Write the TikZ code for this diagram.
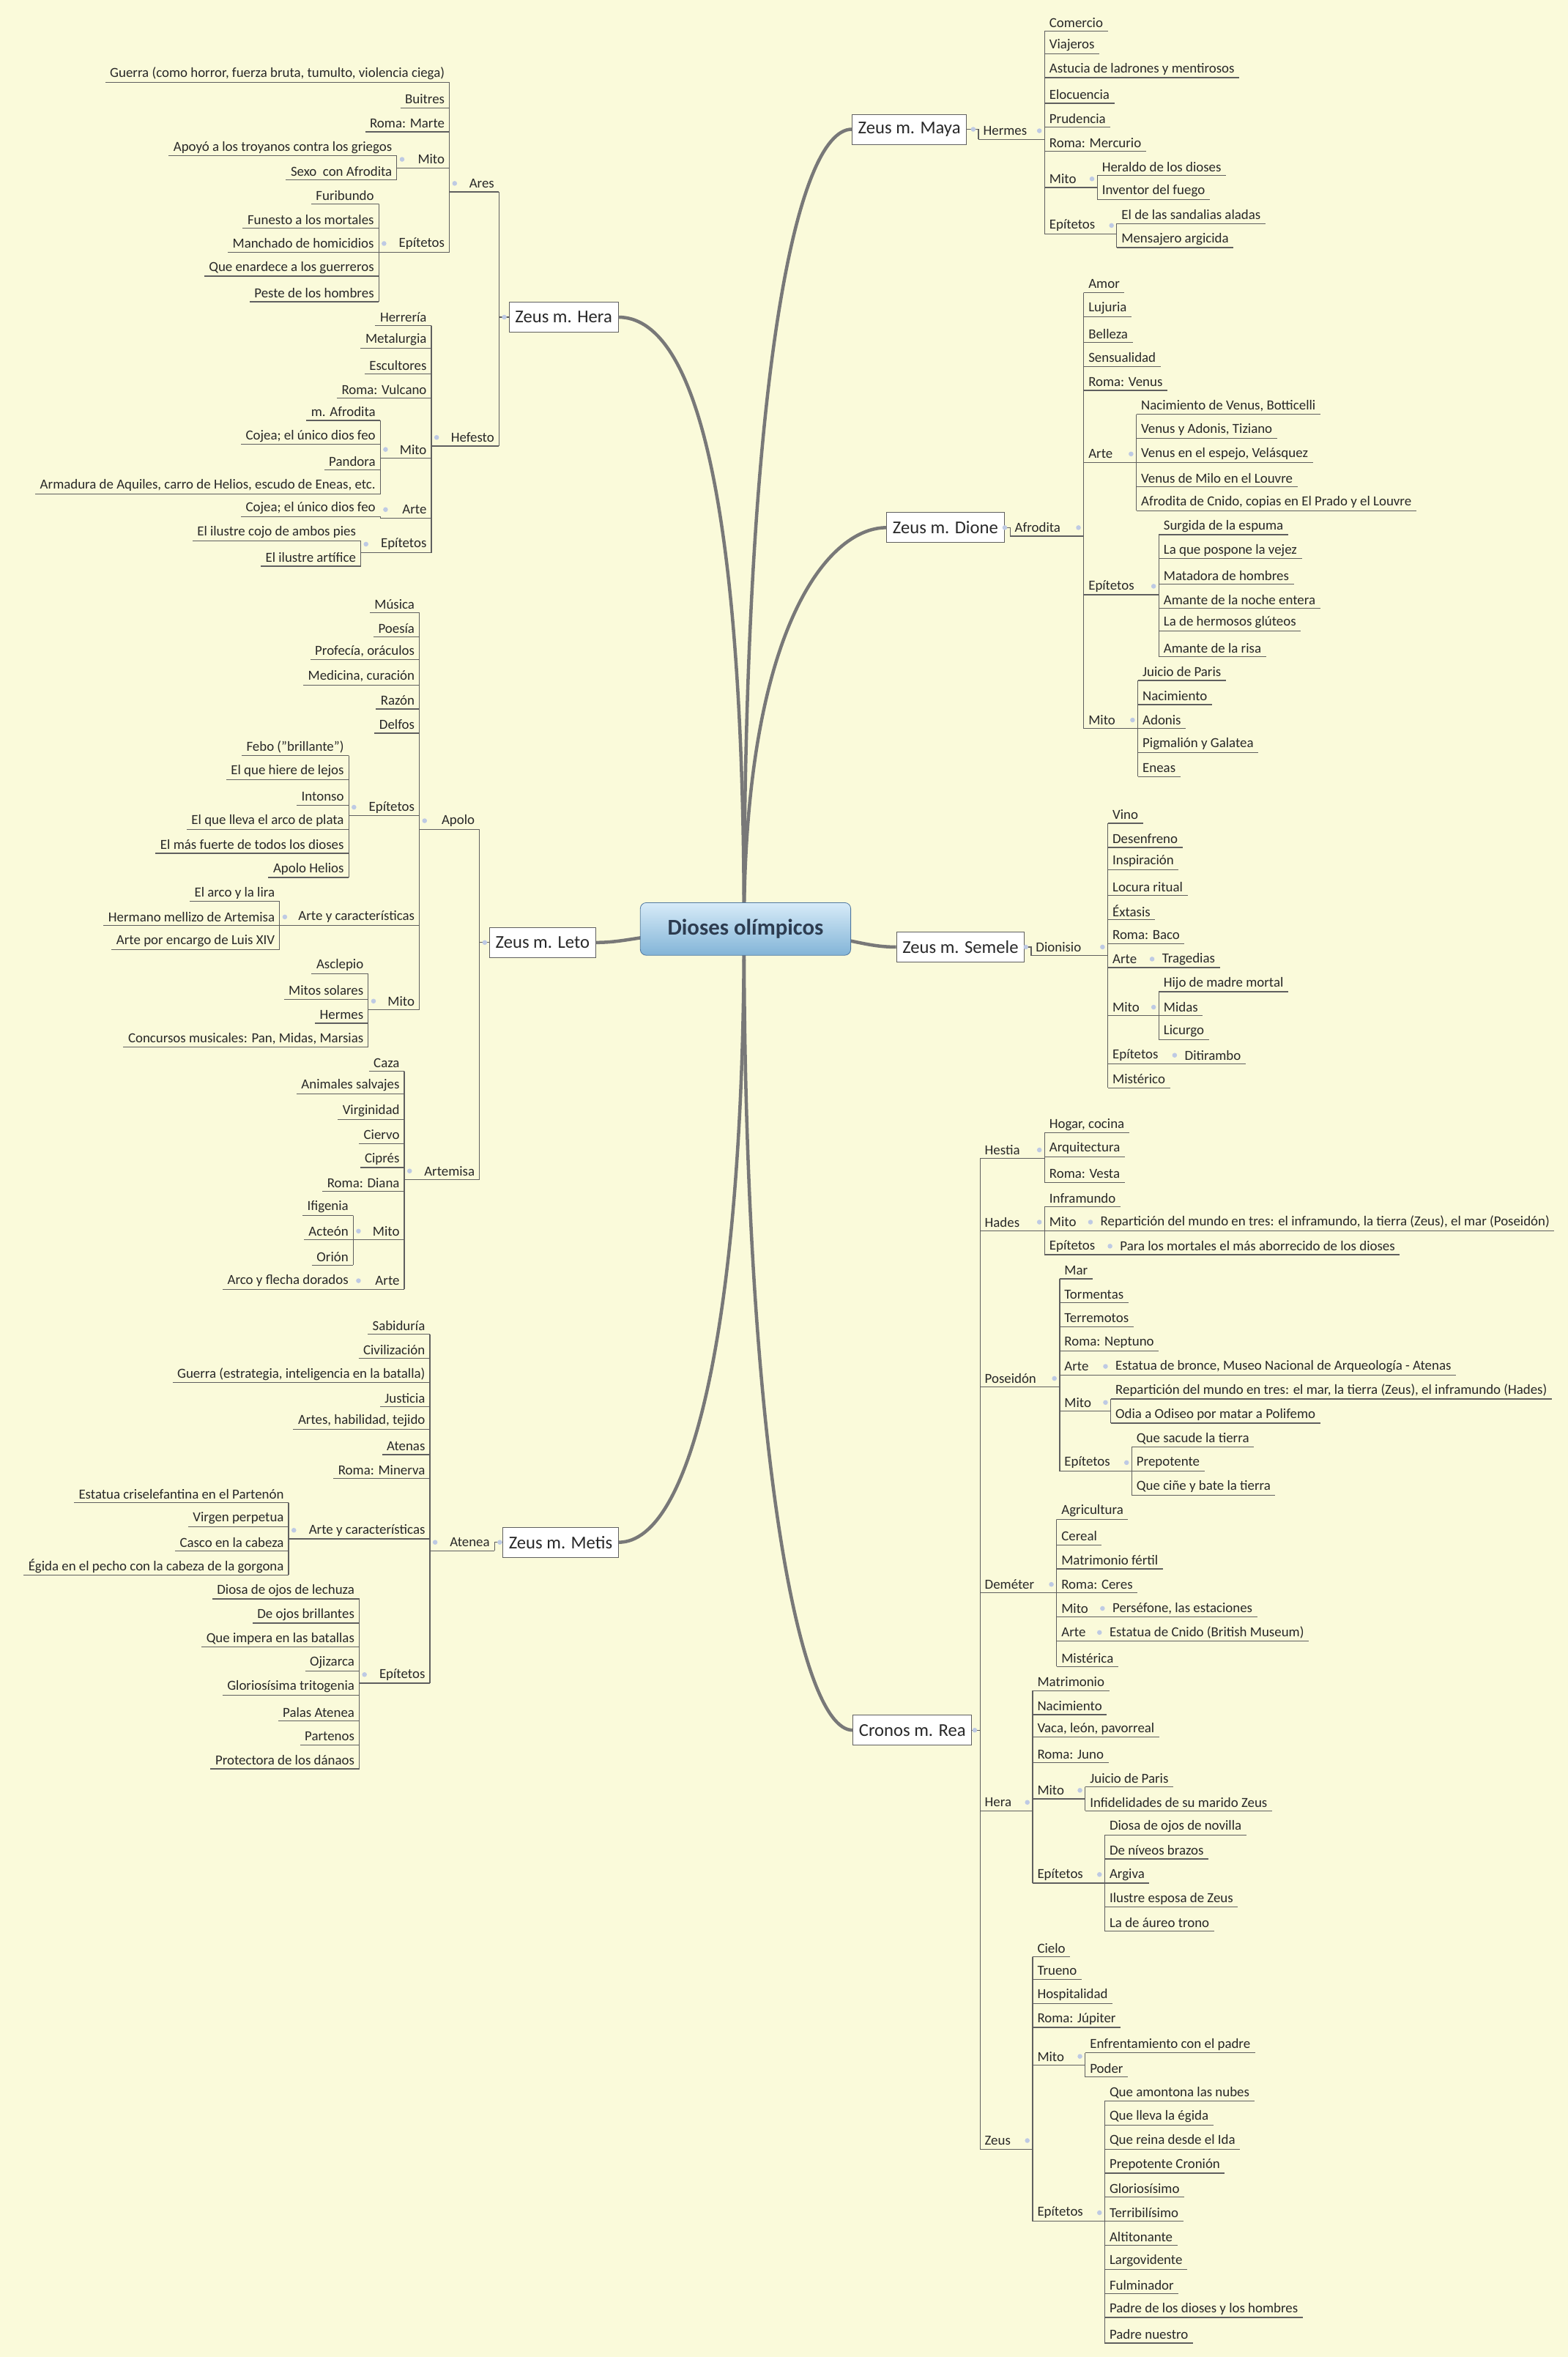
\documentclass[tikz,border=0pt]{standalone}
\usepackage{fontspec}
\setmainfont{Carlito}
\definecolor{bg}{RGB}{250,250,218}
\definecolor{txt}{RGB}{40,40,40}
\definecolor{ulc}{RGB}{95,95,95}
\definecolor{dotc}{RGB}{190,202,228}
\definecolor{mainc}{RGB}{120,120,120}
\tikzset{
 lf/.style={font=\fontsize{9.2}{10}\selectfont,text=txt,inner xsep=3pt,inner ysep=0pt,minimum height=11pt},
 ul/.style={draw=ulc,line width=0.6pt},
 dotf/.style={fill=dotc},
 box/.style={draw=ulc,fill=white,font=\fontsize{12}{13}\selectfont,text=txt,inner xsep=4pt,minimum height=20pt},
 mainl/.style={draw=mainc,line width=2.2pt},
 rootbox/.style={draw={rgb,255:red,80;green,120;blue,160},rounded corners=4pt,top color={rgb,255:red,215;green,235;blue,248},bottom color={rgb,255:red,130;green,180;blue,215},font=\fontsize{15}{16}\selectfont\bfseries,text={rgb,255:red,45;green,60;blue,80},minimum width=140pt,minimum height=35pt}
}
\newcommand\kidsR[5][south east]{%
 \foreach[count=\i] \y/\tx in {#5}{\node[lf,anchor=west] (#4\i) at (#3,\y) {\tx}; \draw[ul] (#4\i.south west) -- (#4\i.south east); \xdef\lastkid{\i}}%
 \draw[ul] (#2.#1) -- (#2.#1 -| #41.south west) -- (#41.south west) -- (#4\lastkid.south west);
 \fill[dotf] (#2.center -| #41.west) ++(-3.5,0) circle (1.6);}
\newcommand\kidsL[5][south west]{%
 \foreach[count=\i] \y/\tx in {#5}{\node[lf,anchor=east] (#4\i) at (#3,\y) {\tx}; \draw[ul] (#4\i.south west) -- (#4\i.south east); \xdef\lastkid{\i}}%
 \draw[ul] (#2.#1) -- (#2.#1 -| #41.south east) -- (#41.south east) -- (#4\lastkid.south east);
 \fill[dotf] (#2.center -| #41.east) ++(3.5,0) circle (1.6);}
\begin{document}
\begin{tikzpicture}[x=1pt,y=-1pt]
\fill[bg] (0,0) rectangle (1043,1568);
\useasboundingbox (0,0) rectangle (1043,1568);
\node[box] (zmaya) at (605,86) {Zeus m. Maya};
\node[box] (zdione) at (629,351) {Zeus m. Dione};
\node[box] (zsemele) at (639,630) {Zeus m. Semele};
\node[box] (zcronos) at (607,1151) {Cronos m. Rea};
\node[box] (zhera) at (375,211) {Zeus m. Hera};
\node[box] (zleto) at (361,627) {Zeus m. Leto};
\node[box] (zmetis) at (373,1026) {Zeus m. Metis};
\coordinate (rc) at (495,618);
\draw[mainl] (rc) .. controls (495,250) and (530,86) .. (zmaya.west);
\draw[mainl] (rc) .. controls (495,420) and (550,351) .. (zdione.west);
\draw[mainl] (rc) .. controls (560,620) and (570,630) .. (zsemele.west);
\draw[mainl] (rc) .. controls (495,950) and (530,1151) .. (zcronos.west);
\draw[mainl] (rc) .. controls (495,320) and (460,211) .. (zhera.east);
\draw[mainl] (rc) .. controls (430,620) and (420,627) .. (zleto.east);
\draw[mainl] (rc) .. controls (495,880) and (460,1026) .. (zmetis.east);
\node[rootbox] (root) at (496,618) {Dioses olímpicos};
% Maya
\kidsR[east]{zmaya}{651}{zm}{87/Hermes}
\kidsR{zm1}{695}{hm}{15/Comercio,30/Viajeros,46/Astucia de ladrones y mentirosos,63/Elocuencia,79/Prudencia,95/Roma: Mercurio,119/Mito,150/Epítetos}
\kidsR{hm7}{730}{hmm}{111/Heraldo de los dioses,127/Inventor del fuego}
\kidsR{hm8}{743}{hme}{143/El de las sandalias aladas,159/Mensajero argicida}
% Dione
\kidsR[east]{zdione}{672}{zd}{351/Afrodita}
\kidsR{zd1}{721}{af}{189/Amor,205/Lujuria,222/Belleza,238/Sensualidad,254/Roma: Venus,302/Arte,390/Epítetos,479/Mito}
\kidsR{af6}{756}{afa}{270/{Nacimiento de Venus, Botticelli},286/{Venus y Adonis, Tiziano},302/{Venus en el espejo, Velásquez},318/Venus de Milo en el Louvre,334/{Afrodita de Cnido, copias en El Prado y el Louvre}}
\kidsR{af7}{771}{afe}{350/Surgida de la espuma,366/La que pospone la vejez,383/Matadora de hombres,399/Amante de la noche entera,414/La de hermosos glúteos,431/Amante de la risa}
\kidsR{af8}{757}{afm}{447/Juicio de Paris,463/Nacimiento,479/Adonis,495/Pigmalión y Galatea,511/Eneas}
% Semele
\kidsR[east]{zsemele}{686}{zs}{630/Dionisio}
\kidsR{zs1}{737}{di}{542/Vino,558/Desenfreno,573/Inspiración,590/Locura ritual,606/Éxtasis,622/Roma: Baco,638/Arte,670/Mito,702/Epítetos,718/Mistérico}
\kidsR{di7}{770}{dia}{638/Tragedias}
\kidsR{di8}{771}{dim}{654/Hijo de madre mortal,670/Midas,686/Licurgo}
\kidsR{di9}{785}{die}{702/Ditirambo}
% Cronos
\kidsR[east]{zcronos}{652}{cr}{765/Hestia,813/Hades,917/Poseidón,1054/Deméter,1199/Hera,1424/Zeus}
\kidsR{cr1}{695}{hs}{748/{Hogar, cocina},764/Arquitectura,781/Roma: Vesta}
\kidsR{cr2}{695}{hd}{797/Inframundo,813/Mito,829/Epítetos}
\kidsR{hd2}{729}{hdm}{813/{Repartición del mundo en tres: el inframundo, la tierra (Zeus), el mar (Poseidón)}}
\kidsR{hd3}{742}{hde}{829/Para los mortales el más aborrecido de los dioses}
\kidsR{cr3}{705}{po}{845/Mar,861/Tormentas,877/Terremotos,893/Roma: Neptuno,909/Arte,933/Mito,973/Epítetos}
\kidsR{po5}{739}{poa}{909/{Estatua de bronce, Museo Nacional de Arqueología - Atenas}}
\kidsR{po6}{739}{pom}{925/{Repartición del mundo en tres: el mar, la tierra (Zeus), el inframundo (Hades)},941/Odia a Odiseo por matar a Polifemo}
\kidsR{po7}{753}{poe}{957/Que sacude la tierra,973/Prepotente,989/Que ciñe y bate la tierra}
\kidsR{cr4}{703}{de}{1005/Agricultura,1022/Cereal,1038/Matrimonio fértil,1054/Roma: Ceres,1070/Mito,1086/Arte,1103/Mistérica}
\kidsR{de5}{737}{dem}{1070/{Perséfone, las estaciones}}
\kidsR{de6}{735}{dea}{1086/Estatua de Cnido (British Museum)}
\kidsR{cr5}{687}{he}{1119/Matrimonio,1135/Nacimiento,1150/{Vaca, león, pavorreal},1167/Roma: Juno,1191/Mito,1247/Epítetos}
\kidsR{he5}{722}{hem}{1183/Juicio de Paris,1199/Infidelidades de su marido Zeus}
\kidsR{he6}{735}{hee}{1215/Diosa de ojos de novilla,1231/De níveos brazos,1247/Argiva,1263/Ilustre esposa de Zeus,1279/La de áureo trono}
\kidsR{cr6}{687}{ze}{1296/Cielo,1311/Trueno,1327/Hospitalidad,1343/Roma: Júpiter,1368/Mito,1472/Epítetos}
\kidsR{ze5}{722}{zem}{1360/Enfrentamiento con el padre,1376/Poder}
\kidsR{ze6}{735}{zee}{1392/Que amontona las nubes,1408/Que lleva la égida,1424/Que reina desde el Ida,1440/Prepotente Cronión,1456/Gloriosísimo,1472/Terribilísimo,1488/Altitonante,1504/Largovidente,1520/Fulminador,1536/Padre de los dioses y los hombres,1553/Padre nuestro}
% Hera
\kidsL[west]{zhera}{332}{zh}{122/Ares,291/Hefesto}
\kidsL{zh1}{299}{ar}{49/{Guerra (como horror, fuerza bruta, tumulto, violencia ciega)},66/Buitres,82/Roma: Marte,106/Mito,162/Epítetos}
\kidsL{ar4}{264}{arm}{98/Apoyó a los troyanos contra los griegos,114/Sexo\ \ con Afrodita}
\kidsL{ar5}{252}{are}{130/Furibundo,146/Funesto a los mortales,162/Manchado de homicidios,178/Que enardece a los guerreros,195/Peste de los hombres}
\kidsL{zh2}{287}{hf}{211/Herrería,226/Metalurgia,243/Escultores,259/Roma: Vulcano,299/Mito,339/Arte,362/Epítetos}
\kidsL{hf5}{253}{hfm}{274/m. Afrodita,290/{Cojea; el único dios feo},307/Pandora,323/{Armadura de Aquiles, carro de Helios, escudo de Eneas, etc.}}
\kidsL{hf6}{253}{hfa}{338/{Cojea; el único dios feo}}
\kidsL{hf7}{240}{hfe}{354/El ilustre cojo de ambos pies,371/El ilustre artífice}
% Leto
\kidsL[west]{zleto}{319}{zl}{546/Apolo,779/Artemisa}
\kidsL{zl1}{279}{ap}{402/Música,418/Poesía,433/{Profecía, oráculos},450/{Medicina, curación},466/Razón,482/Delfos,537/Epítetos,610/Arte y características,666/Mito}
\kidsL{ap7}{232}{ape}{497/Febo ("brillante"),513/El que hiere de lejos,530/Intonso,546/El que lleva el arco de plata,562/El más fuerte de todos los dioses,578/Apolo Helios}
\kidsL{ap8}{186}{apa}{594/El arco y la lira,610/Hermano mellizo de Artemisa,626/Arte por encargo de Luis XIV}
\kidsL{ap9}{245}{apm}{642/Asclepio,659/Mitos solares,675/Hermes,691/{Concursos musicales: Pan, Midas, Marsias}}
\kidsL{zl2}{269}{at}{707/Caza,722/Animales salvajes,739/Virginidad,755/Ciervo,771/Ciprés,787/Roma: Diana,819/Mito,852/Arte}
\kidsL{at7}{235}{atm}{803/Ifigenia,819/Acteón,836/Orión}
\kidsL{at8}{235}{ata}{852/Arco y flecha dorados}
% Metis
\kidsL[west]{zmetis}{329}{zt}{1026/Atenea}
\kidsL{zt1}{286}{an}{882/Sabiduría,898/Civilización,914/{Guerra (estrategia, inteligencia en la batalla)},930/Justicia,945/{Artes, habilidad, tejido},962/Atenas,978/Roma: Minerva,1018/Arte y características,1114/Epítetos}
\kidsL{an8}{192}{ana}{994/Estatua criselefantina en el Partenón,1010/Virgen perpetua,1026/Casco en la cabeza,1042/Égida en el pecho con la cabeza de la gorgona}
\kidsL{an9}{239}{ane}{1058/Diosa de ojos de lechuza,1074/De ojos brillantes,1090/Que impera en las batallas,1106/Ojizarca,1122/Gloriosísima tritogenia,1139/Palas Atenea,1155/Partenos,1171/Protectora de los dánaos}
\end{tikzpicture}
\end{document}
